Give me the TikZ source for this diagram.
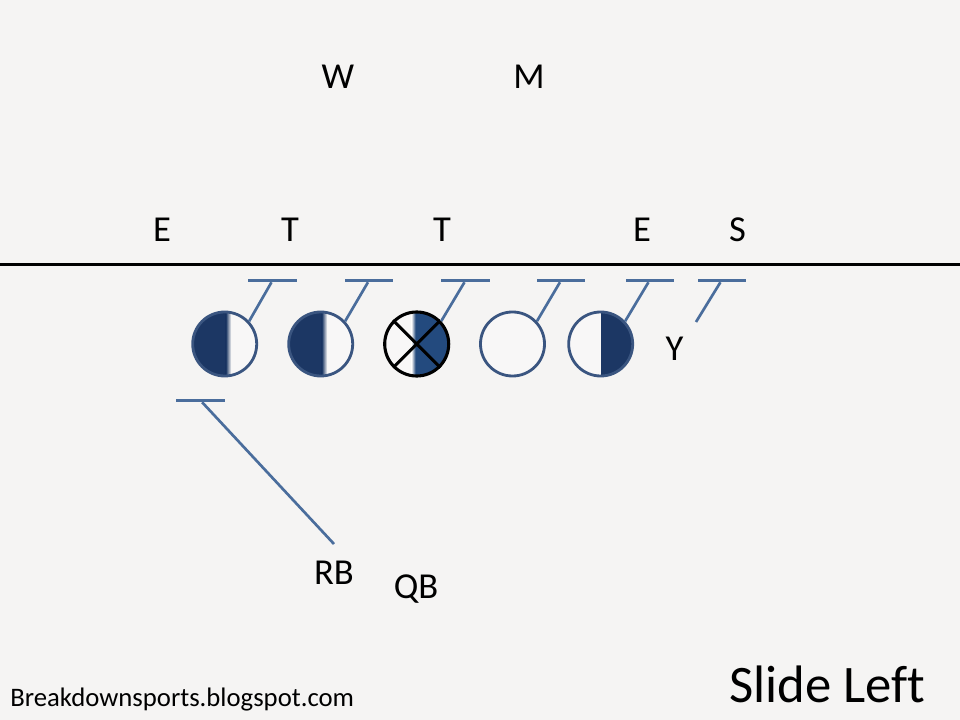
\documentclass[tikz,border=0pt]{standalone}
\usepackage{fontspec}
\setmainfont{Carlito}
\definecolor{paper}{HTML}{F5F4F3}
\definecolor{blockblue}{HTML}{4A6D9C}
\definecolor{ringblue}{HTML}{3A5580}
\definecolor{fillblue}{HTML}{1C3764}
\definecolor{centerblue}{HTML}{234A7E}
\tikzset{
    player/.style={circle, draw=ringblue, line width=2pt, fill=white!30!paper, minimum size=1.6cm, inner sep=0pt},
    leftdark/.style={path picture={
        \fill[fillblue] (path picture bounding box.south west) rectangle ([xshift=0.03cm]path picture bounding box.north);
        \shade[left color=fillblue, right color=white!30!paper] ([xshift=0.03cm]path picture bounding box.south) rectangle ([xshift=0.16cm]path picture bounding box.north);
    }},
    rightdark/.style={path picture={
        \fill[fillblue] (path picture bounding box.south) rectangle (path picture bounding box.north east);
    }},
    centerdark/.style={path picture={
        \fill[centerblue] ([xshift=-0.03cm]path picture bounding box.south) rectangle (path picture bounding box.north east);
        \shade[left color=white!30!paper, right color=centerblue] ([xshift=-0.13cm]path picture bounding box.south) rectangle ([xshift=-0.03cm]path picture bounding box.north);
    }},
    blockbar/.style={rectangle, fill=blockblue, minimum width=1.2cm, minimum height=2.1pt, inner sep=0pt},
    stem/.style={blockblue, line width=1.9pt},
    label/.style={font=\fontsize{26}{30}\selectfont, inner sep=0pt}
}
\begin{document}
\begin{tikzpicture}[x=0.025cm, y=-0.025cm]
    % Background
    \fill[paper] (0,0) rectangle (960,720);
    \useasboundingbox (0,0) rectangle (960,720);

    % Line of scrimmage
    \draw[black, line width=2.2pt] (0,264.5) -- (960,264.5);

    % Defense
    \node[label] (w) at (338,77) {W};
    \node[label] (m) at (529,77) {M};
    \node[label] (el) at (162,229.5) {E};
    \node[label] (tl) at (290,229.5) {T};
    \node[label] (tr) at (442,229.5) {T};
    \node[label] (er) at (642,229.5) {E};
    \node[label] (s) at (737.5,229.5) {S};

    % Offensive line
    \node[player, leftdark] (lt) at (224.7,344) {};
    \node[player, leftdark] (lg) at (320.7,344) {};
    \node[player, centerdark, draw=black, line width=2.2pt] (c) at (416.7,344) {};
    \node[player] (rg) at (512.5,344) {};
    \node[player, rightdark] (rt) at (600.7,344) {};
    \draw[black, line width=2.2pt] (c.45) -- (c.225);
    \draw[black, line width=2.2pt] (c.135) -- (c.315);

    % Backs and tight end
    \node[label] (y) at (674.5,348.5) {Y};
    \node[label] (rb) at (334,573) {RB};
    \node[label] (qb) at (416,589) {QB};

    % Blocks
    \node[blockbar] (ltbar) at (272.5,280.5) {};
    \node[blockbar] (lgbar) at (369,280.5) {};
    \node[blockbar] (cbar) at (465.5,280.5) {};
    \node[blockbar] (rgbar) at (561,280.5) {};
    \node[blockbar] (rtbar) at (649.5,280.5) {};
    \node[blockbar] (ybar) at (721.5,280.5) {};
    \node[blockbar] (rbbar) at (200.5,400.5) {};
    \coordinate (ystart) at (696,322);
    \coordinate (rbstart) at (334,544);

    \draw[stem] (lt.43) -- (ltbar);
    \draw[stem] (lg.43) -- (lgbar);
    \draw[stem] (c.43) -- (cbar);
    \draw[stem] (rg.43) -- (rgbar);
    \draw[stem] (rt.43) -- (rtbar);
    \draw[stem] (ystart) -- (ybar);
    \draw[stem] (rbstart) -- (rbbar);

    % Captions
    \node[font=\fontsize{37.5}{44}\selectfont, inner sep=0pt] (title) at (827.5,684) {Slide Lef\kern0pt t};
    \node[font=\fontsize{19}{23}\selectfont, inner sep=0pt, anchor=west] (site) at (10,699.5) {Breakdownsports.blogspot.com};
\end{tikzpicture}
\end{document}
